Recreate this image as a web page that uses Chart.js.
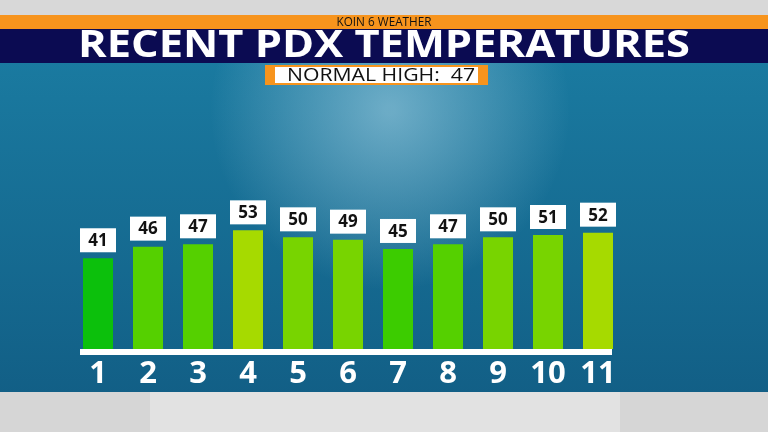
<!DOCTYPE html>
<html><head><meta charset="utf-8">
<script src="https://cdn.jsdelivr.net/npm/chart.js@4"></script>
<style>html,body{margin:0;padding:0;overflow:hidden}canvas{display:block}</style>
</head><body>
<div style="width:768px;height:432px"><canvas id="c"></canvas></div>
<script>
// Recent PDX temperatures (day of month -> high)
const days = ['1', '2', '3', '4', '5', '6', '7', '8', '9', '10', '11'];
const highs = [41, 46, 47, 53, 50, 49, 45, 47, 50, 51, 52];
const normalHigh = 47;

function barColor(v) {
    if (v <= 42) return '#0cc00c';
    if (v <= 45) return '#3ccc00';
    if (v <= 47) return '#55d000';
    if (v <= 51) return '#78d400';
    return '#a6da00';
}

// text stretched to a given width, like the TV graphics font
function wideText(ctx, txt, x, y, width) {
    const w = ctx.measureText(txt).width;
    ctx.save();
    ctx.translate(x, y);
    ctx.scale(width / w, 1);
    ctx.fillText(txt, 0, 0);
    ctx.restore();
}

const backdrop = {
    id: 'backdrop',
    beforeDraw(chart) {
        const ctx = chart.ctx;
        const W = chart.width, H = chart.height;
        let g = ctx.createLinearGradient(0, 60, 0, 395);
        g.addColorStop(0, '#1a7aa0');
        g.addColorStop(1, '#125f86');
        ctx.fillStyle = g;
        ctx.fillRect(0, 0, W, H);
        let r = ctx.createRadialGradient(390, 110, 5, 390, 110, 180);
        r.addColorStop(0, 'rgba(190,225,240,0.5)');
        r.addColorStop(1, 'rgba(190,225,240,0)');
        ctx.fillStyle = r;
        ctx.fillRect(0, 60, W, 335);
        ctx.fillStyle = '#d8d8d8';
        ctx.fillRect(0, 0, W, 15);
        ctx.fillStyle = '#f7941d';
        ctx.fillRect(0, 15, W, 14);
        ctx.fillStyle = '#0b0b52';
        ctx.fillRect(0, 29, W, 34);
        ctx.fillStyle = '#d6d6d6';
        ctx.fillRect(0, 392, W, H - 392);
        ctx.fillStyle = '#e2e2e2';
        ctx.fillRect(150, 392, 470, H - 392);

        ctx.textAlign = 'center';
        ctx.textBaseline = 'middle';
        ctx.fillStyle = '#111';
        ctx.font = '13px "Open Sans"';
        wideText(ctx, 'KOIN 6 WEATHER', 384, 22.5, 95);
        ctx.fillStyle = '#fff';
        ctx.font = 'bold 37px "Open Sans"';
        wideText(ctx, 'RECENT PDX TEMPERATURES', 384, 46, 612);
        ctx.fillStyle = '#f7941d';
        ctx.fillRect(265, 65, 223, 20);
        ctx.fillStyle = '#fff';
        ctx.fillRect(275, 67, 203, 16);
        ctx.fillStyle = '#111';
        ctx.font = '18px "Open Sans"';
        wideText(ctx, 'NORMAL HIGH:  ' + normalHigh, 381, 76, 188);
    },
    afterDatasetsDraw(chart) {
        const ctx = chart.ctx;
        const meta = chart.getDatasetMeta(0);
        const area = chart.chartArea;
        ctx.fillStyle = '#ffffff';
        ctx.fillRect(area.left + 7, area.bottom, area.right - area.left - 18, 6);
        ctx.textAlign = 'center';
        ctx.textBaseline = 'middle';
        meta.data.forEach((bar, i) => {
            ctx.fillStyle = '#fff';
            ctx.fillRect(bar.x - 18, bar.y - 30, 36, 24);
            ctx.fillStyle = '#111';
            ctx.font = 'bold 17px "Open Sans"';
            ctx.fillText(String(highs[i]), bar.x, bar.y - 17);
            ctx.fillStyle = '#fff';
            ctx.font = 'bold 31px "Open Sans"';
            ctx.fillText(days[i], bar.x, area.bottom + 25);
        });
    }
};

new Chart(document.getElementById('c'), {
    type: 'bar',
    data: {
        labels: days,
        datasets: [{
            data: highs,
            backgroundColor: highs.map(barColor),
            borderWidth: 0,
            barPercentage: 0.6,
            categoryPercentage: 1
        }]
    },
    options: {
        responsive: true,
        maintainAspectRatio: false,
        animation: false,
        layout: { padding: { left: 73, right: 145, top: 121, bottom: 83 } },
        plugins: { legend: { display: false }, tooltip: { enabled: false } },
        scales: {
            x: { display: false },
            y: { display: false, min: 2, max: 100 }
        }
    },
    plugins: [backdrop]
});
</script>
</body></html>
